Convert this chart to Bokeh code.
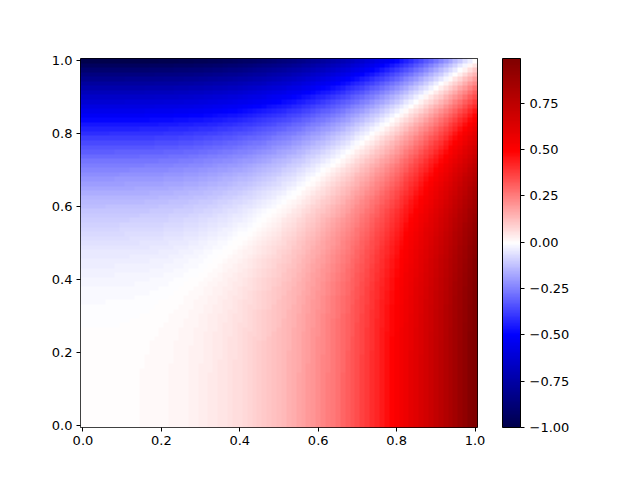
import numpy as np
from bokeh.plotting import figure
from bokeh.models import LinearColorMapper, ColorBar, FixedTicker, CustomJSTickFormatter
from bokeh.embed import file_html
from bokeh.resources import INLINE

# grid of cell centres and the surface z = x^3 - y^4
x_centers = np.linspace(0.0, 1.0, 81)
y_centers = np.linspace(0.0, 1.0, 81)
X, Y = np.meshgrid(x_centers, y_centers)
Z = X ** 3 - Y ** 4

x_ticks = [0.0, 0.2, 0.4, 0.6, 0.8, 1.0]
y_ticks = [0.0, 0.2, 0.4, 0.6, 0.8, 1.0]
cb_ticks = [-1.0, -0.75, -0.5, -0.25, 0.0, 0.25, 0.5, 0.75]

# matplotlib "seismic" colormap
anchors = [(0.0, 0.0, 0.3), (0.0, 0.0, 1.0), (1.0, 1.0, 1.0), (1.0, 0.0, 0.0), (0.5, 0.0, 0.0)]
pos = np.linspace(0, 1, len(anchors))
palette = []
for t in np.linspace(0, 1, 256):
    rgb = [np.interp(t, pos, [a[i] for a in anchors]) for i in range(3)]
    palette.append("#%02x%02x%02x" % tuple(int(round(c * 255)) for c in rgb))

half = 0.5 * (x_centers[1] - x_centers[0])
x0, x1 = x_centers[0] - half, x_centers[-1] + half
y0, y1 = y_centers[0] - half, y_centers[-1] + half

mapper = LinearColorMapper(palette=palette, low=-1.0, high=0.99)

p = figure(width=624, height=470, output_backend="svg", toolbar_location=None,
           x_range=(x0, x1), y_range=(y0, y1),
           min_border_left=80, min_border_top=58, min_border_bottom=43, min_border_right=147,
           frame_width=397, frame_height=369)
p.image(image=[Z], x=x0, y=y0, dw=x1 - x0, dh=y1 - y0, color_mapper=mapper)

p.grid.visible = False
p.outline_line_color = "black"
p.outline_line_width = 1
p.xaxis.ticker = FixedTicker(ticks=x_ticks)
p.yaxis.ticker = FixedTicker(ticks=y_ticks)
for ax in (p.xaxis[0], p.yaxis[0]):
    ax.major_label_text_font = "DejaVu Sans"
    ax.major_label_text_font_size = "13px"
    ax.major_label_text_color = "black"
    ax.major_tick_out = 4
    ax.major_tick_in = 0
    ax.minor_tick_line_color = None
    ax.axis_line_color = None
    ax.major_tick_line_color = "black"
    ax.major_label_standoff = 4
p.xaxis.formatter = CustomJSTickFormatter(code="return tick.toFixed(1);")
p.yaxis.formatter = CustomJSTickFormatter(code="return tick.toFixed(1);")

cb = ColorBar(color_mapper=mapper, width=18, height=369, padding=0, margin=0,
              location=(422, 0),
              ticker=FixedTicker(ticks=cb_ticks),
              formatter=CustomJSTickFormatter(code="return (tick < 0 ? '\u2212' : '') + Math.abs(tick).toFixed(2);"),
              major_label_text_font="DejaVu Sans", major_label_text_font_size="13px",
              major_label_text_color="black",
              major_tick_out=4, major_tick_in=0, major_tick_line_color="black",
              bar_line_color="black", minor_tick_line_color=None,
              label_standoff=5, background_fill_color=None, border_line_color=None)
p.add_layout(cb, "center")

open("out.html", "w").write(file_html(p, INLINE))
